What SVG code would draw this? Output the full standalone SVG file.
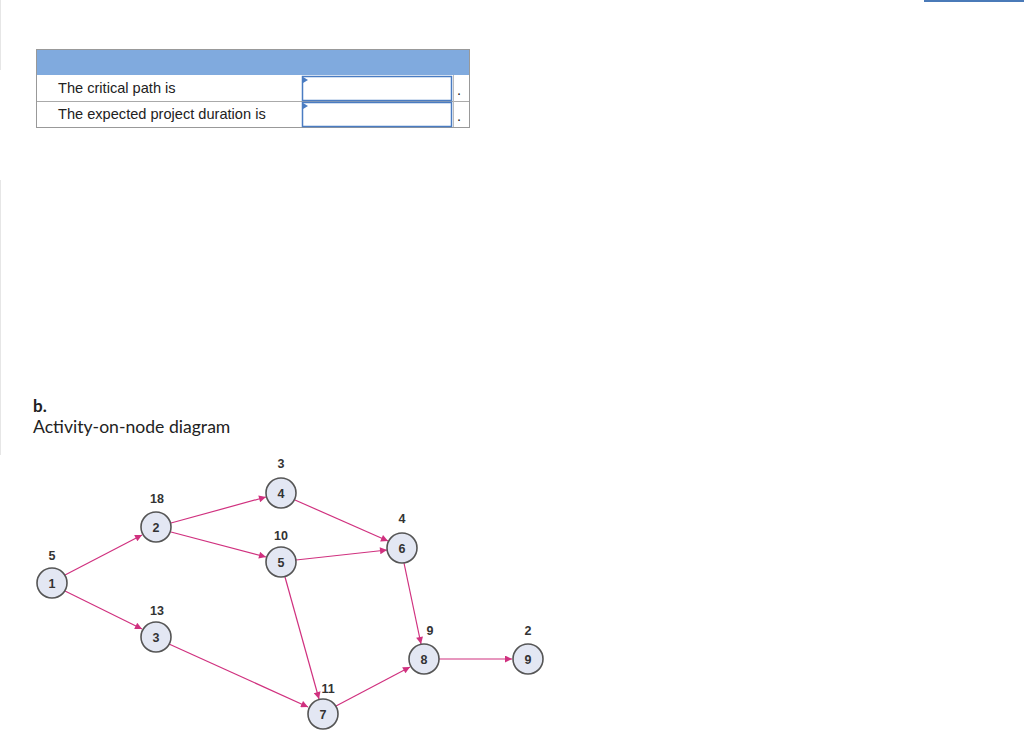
<svg xmlns="http://www.w3.org/2000/svg" width="1024" height="739" viewBox="0 0 1024 739">
<defs>
<marker id="ah" viewBox="0 0 10 10" refX="10" refY="5" markerWidth="9" markerHeight="7" markerUnits="userSpaceOnUse" orient="auto"><path d="M0,0 L10,5 L0,10 z" fill="#d0317f"/></marker>
</defs>
<style>
.t{font-family:"Liberation Sans",Arial,sans-serif;font-size:14.6px;fill:#222}
.n circle{fill:#e3e7f3;stroke:#555;stroke-width:1.6}
.n text{font-family:"Liberation Sans",Arial,sans-serif;font-size:12.5px;font-weight:bold;fill:#333;text-anchor:middle}
.lbl{font-family:"Liberation Sans",Arial,sans-serif;font-size:12.5px;font-weight:bold;fill:#333;text-anchor:middle}
.e{stroke:#d0317f;stroke-width:1.2;fill:none;marker-end:url(#ah)}
.box{fill:#fff;stroke:#4a7cc2;stroke-width:1.5}
</style>
<rect width="1024" height="739" fill="#fff"/>
<rect x="924" y="0" width="100" height="2" fill="#4a7ab8"/>
<line x1="0.5" y1="0" x2="0.5" y2="70" stroke="#e6e6e6"/>
<line x1="0.5" y1="180" x2="0.5" y2="455" stroke="#e6e6e6"/>
<g id="table">
<rect x="36.5" y="49.5" width="433" height="78" fill="#fff" stroke="#999"/>
<rect x="37" y="50" width="432" height="25" fill="#80aade"/>
<line x1="37" y1="101.5" x2="469" y2="101.5" stroke="#aaa"/>
<line x1="453.5" y1="75" x2="453.5" y2="127" stroke="#bbb"/>
<rect class="box" x="302.5" y="76.5" width="149" height="24"/>
<rect class="box" x="302.5" y="102.5" width="149" height="24"/>
<path d="M303,77 L308,80 L303,83 z" fill="#4a7cc2"/>
<path d="M303,103 L308,106 L303,109 z" fill="#4a7cc2"/>
<text class="t" x="58" y="93">The critical path is</text>
<text class="t" x="58" y="119">The expected project duration is</text>
<text class="t" x="457" y="95">.</text>
<text class="t" x="457" y="121">.</text>
</g>
<text x="33" y="412" font-family="Lato,'Liberation Sans',sans-serif" font-size="17" font-weight="bold" fill="#222">b.</text>
<text x="33" y="433" font-family="Lato,'Liberation Sans',sans-serif" font-size="17.6" fill="#222">Activity-on-node diagram</text>
<g id="connectors">
<line class="e" x1="65" y1="575" x2="142" y2="535"/>
<line class="e" x1="65" y1="591" x2="142" y2="629"/>
<line class="e" x1="171" y1="523" x2="266" y2="497"/>
<line class="e" x1="171" y1="532" x2="266" y2="557"/>
<line class="e" x1="169" y1="644" x2="308" y2="707"/>
<line class="e" x1="295" y1="500" x2="388" y2="541"/>
<line class="e" x1="296" y1="560" x2="387" y2="550"/>
<line class="e" x1="285" y1="577" x2="319" y2="699"/>
<line class="e" x1="404" y1="563" x2="421" y2="644"/>
<line class="e" x1="336" y1="706" x2="410" y2="667"/>
<line class="e" x1="439" y1="659" x2="512" y2="659"/>
</g>
<g id="node1" class="n"><circle cx="52" cy="583" r="15"/><text x="52" y="588">1</text></g>
<g id="node2" class="n"><circle cx="156" cy="527" r="15"/><text x="156" y="532">2</text></g>
<g id="node3" class="n"><circle cx="156" cy="637" r="15"/><text x="156" y="642">3</text></g>
<g id="node4" class="n"><circle cx="281" cy="493" r="15"/><text x="281" y="498">4</text></g>
<g id="node5" class="n"><circle cx="281" cy="562" r="15"/><text x="281" y="567">5</text></g>
<g id="node6" class="n"><circle cx="402" cy="548" r="15"/><text x="402" y="553">6</text></g>
<g id="node7" class="n"><circle cx="323" cy="714" r="15"/><text x="323" y="719">7</text></g>
<g id="node8" class="n"><circle cx="424" cy="659" r="15"/><text x="424" y="664">8</text></g>
<g id="node9" class="n"><circle cx="528" cy="659" r="15"/><text x="528" y="664">9</text></g>
<g id="labels">
<text class="lbl" x="52" y="560">5</text>
<text class="lbl" x="157" y="503">18</text>
<text class="lbl" x="157" y="615">13</text>
<text class="lbl" x="281" y="468">3</text>
<text class="lbl" x="281" y="540">10</text>
<text class="lbl" x="402" y="523">4</text>
<text class="lbl" x="430" y="635">9</text>
<text class="lbl" x="328" y="693">11</text>
<text class="lbl" x="528" y="635">2</text>
</g>
</svg>
